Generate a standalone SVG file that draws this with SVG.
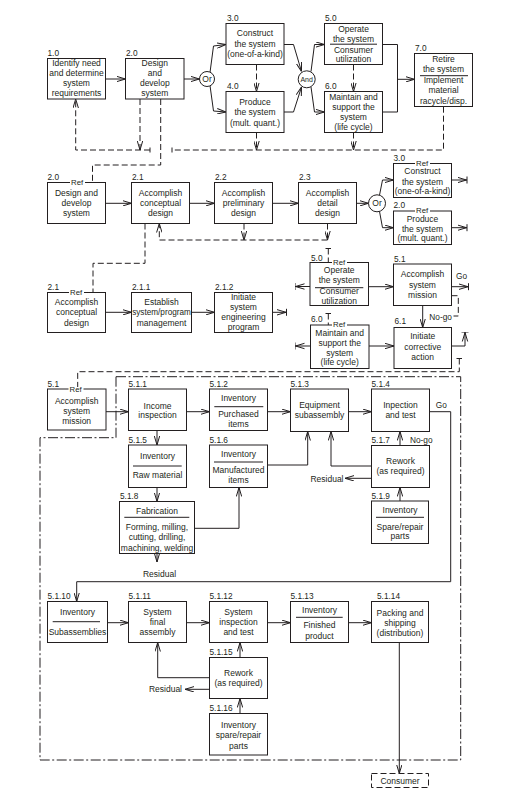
<svg xmlns="http://www.w3.org/2000/svg" width="507" height="796" viewBox="0 0 507 796">
<defs>
<style>
.b{fill:#fff;stroke:#231f20;stroke-width:1}
.t{font-family:"Liberation Sans",Arial,sans-serif;font-size:8.5px;fill:#231f20;text-anchor:middle}
.l{font-family:"Liberation Sans",Arial,sans-serif;font-size:8.3px;fill:#231f20}
.r{font-family:"Liberation Sans",Arial,sans-serif;font-size:7.8px;fill:#231f20}
.s{fill:none;stroke:#231f20;stroke-width:1}
.d{stroke-dasharray:6 3}
.dd{stroke-dasharray:10 2.5 2 2.5}
.dv{stroke:#231f20;stroke-width:1}
.w{fill:#fff}
</style>
<marker id="a" viewBox="0 0 9 6" refX="9" refY="3" markerWidth="9" markerHeight="6" markerUnits="userSpaceOnUse" orient="auto"><path d="M0,0.3 L9,3 L0,5.7" fill="none" stroke="#231f20" stroke-width="1"/></marker>
<marker id="ab" viewBox="0 0 10 8" refX="9.5" refY="4" markerWidth="10" markerHeight="8" markerUnits="userSpaceOnUse" orient="auto"><path d="M0,1.3 L9,4 L0,6.7 M9.5,0.5 V7.5" fill="none" stroke="#231f20" stroke-width="1"/></marker>
</defs>
<rect width="507" height="796" fill="#fff"/>

<g id="connectors">
<g class="s">
<path d="M105.5,79 H125.5" marker-end="url(#a)"/>
<path d="M184,79 H199.5" marker-end="url(#a)"/>
<path d="M210,72.5 L213.5,46 L226,44.5" marker-end="url(#a)"/>
<path d="M210,85.5 L213.5,111 L226,112" marker-end="url(#a)"/>
<path d="M284,44.5 H293.5 L301.5,71.5" marker-end="url(#a)"/>
<path d="M284,112 H293.5 L301.5,87" marker-end="url(#a)"/>
<path d="M311,71.5 L314.5,44.5 H324.5" marker-end="url(#a)"/>
<path d="M311,87 L314.5,112 H324.5" marker-end="url(#a)"/>
<path d="M382.5,44.5 H397.5 V112 H382.5"/>
<path d="M397.5,79.3 H414.5" marker-end="url(#a)"/>
<path d="M150,147.5 V152.5 M172,147.5 V152.5"/>

<path d="M105.5,203.3 H131.5" marker-end="url(#a)"/>
<path d="M189.5,203.3 H214.5" marker-end="url(#a)"/>
<path d="M272.5,203.3 H298.5" marker-end="url(#a)"/>
<path d="M356.5,203.3 H368.5" marker-end="url(#a)"/>
<path d="M379.5,195.2 L382.5,180 H393.5" marker-end="url(#a)"/>
<path d="M379.5,211.4 L382.5,227.7 H393.5" marker-end="url(#a)"/>
<path d="M451.5,180 H467" marker-end="url(#ab)"/>
<path d="M451.5,227.7 H467" marker-end="url(#ab)"/>

<path d="M105.5,312.3 H131.5" marker-end="url(#a)"/>
<path d="M191.5,312.3 H214.5" marker-end="url(#a)"/>
<path d="M272.5,312.3 H286.5" marker-end="url(#ab)"/>
<path d="M310,286.5 H295" marker-end="url(#ab)"/>
<path d="M368.5,286.7 H393.5" marker-end="url(#a)"/>
<path d="M451.5,286.7 H468.5" marker-end="url(#ab)"/>
<path d="M422.7,305.5 V327.5" marker-end="url(#a)"/>
<path d="M310.5,346 H295" marker-end="url(#ab)"/>
<path d="M369,346 H394" marker-end="url(#a)"/>
<path d="M451.5,346 H465 V332" marker-end="url(#ab)"/>
<path d="M325.5,248.5 H331 M325.5,313.5 H331 M456.5,358.5 H462"/>

<path d="M106,411.7 H128.5" marker-end="url(#a)"/>
<path d="M186.5,411.7 H209.5" marker-end="url(#a)"/>
<path d="M267.5,411.7 H290.5" marker-end="url(#a)"/>
<path d="M348.5,411.7 H371.5" marker-end="url(#a)"/>
<path d="M157,430.5 V445" marker-end="url(#a)"/>
<path d="M157,487.5 V501.5" marker-end="url(#a)"/>
<path d="M157,553.5 V562" marker-end="url(#a)"/>
<path d="M194.5,528.3 H239 V487.5" marker-end="url(#a)"/>
<path d="M267.5,465 H307.7 V431.5" marker-end="url(#a)"/>
<path d="M400,445.5 V431.5" marker-end="url(#a)"/>
<path d="M371.5,466 H331 V431.5" marker-end="url(#a)"/>
<path d="M371.5,478.3 H345" marker-end="url(#a)"/>
<path d="M400,501 V487.5" marker-end="url(#a)"/>
<path d="M429.5,411.7 H450.7 V581.7 H76.7 V601.5" marker-end="url(#a)"/>

<path d="M107.5,622.7 H128.5" marker-end="url(#a)"/>
<path d="M186.5,622.7 H209.5" marker-end="url(#a)"/>
<path d="M267.5,622.7 H290.5" marker-end="url(#a)"/>
<path d="M348.5,622.7 H371.5" marker-end="url(#a)"/>
<path d="M240,657.5 V642.5" marker-end="url(#a)"/>
<path d="M209.5,677.7 H157.7 V642.5" marker-end="url(#a)"/>
<path d="M209.5,689.3 H185" marker-end="url(#a)"/>
<path d="M240,713.5 V698.5" marker-end="url(#a)"/>
<path d="M399.3,642.5 V773.5" marker-end="url(#a)"/>
</g>
<g class="s d">
<path d="M256.5,64.5 V91.5" marker-end="url(#a)"/>
<path d="M353.5,64.5 V91.5" marker-end="url(#a)"/>
<path d="M150,150 H75.7 V99" marker-end="url(#a)"/>
<path d="M140,99 V150" marker-end="url(#a)"/>
<path d="M160.7,99 V165 H92.5 V182.5"/>
<path d="M443.5,106.7 V150 H172"/>
<path d="M256.5,132.5 V150" marker-end="url(#a)"/>
<path d="M353.5,132.5 V150" marker-end="url(#a)"/>
<path d="M244,223.5 V240" marker-end="url(#a)"/>
<path d="M327.5,223.5 V240" marker-end="url(#a)"/>
<path d="M327.5,240 H159.3 V223.5" marker-end="url(#a)"/>
<path d="M145,223.5 V263.3 H93 V292.5"/>
<path d="M451.5,295.7 H458.3 V316 H453.5"/>
<path d="M328.3,248.5 V262.5"/>
<path d="M328.3,313.5 V325"/>
<path d="M459.3,358.5 V371.7 H77.7 V389"/>
</g>
</g>

<g id="frame"><path class="s dd" d="M116,376.7 H460.7 V760 H40 V437.7 H116 Z"/></g>

<g id="n1_0"><rect class="b" x="47.5" y="58.5" width="58" height="40.5"/><text class="l" x="47.5" y="55.5">1.0</text>
<text class="t" x="76.5" y="65.5">Identify need</text><text class="t" x="76.5" y="75.8">and determine</text><text class="t" x="76.5" y="86">system</text><text class="t" x="76.5" y="96.3">requirements</text></g>
<g id="n2_0"><rect class="b" x="125.5" y="58.5" width="58.5" height="40.5"/><text class="l" x="126" y="55.5">2.0</text>
<text class="t" x="154.8" y="65.5">Design</text><text class="t" x="154.8" y="75.8">and</text><text class="t" x="154.8" y="86">develop</text><text class="t" x="154.8" y="96.3">system</text></g>
<g id="or1"><circle class="b" cx="207" cy="79" r="7.5"/><text class="t" x="207" y="82">Or</text></g>
<g id="n3_0"><rect class="b" x="226" y="23.5" width="58" height="41"/><text class="l" x="227" y="20.5">3.0</text>
<text class="t" x="255" y="36">Construct</text><text class="t" x="255" y="46.5">the system</text><text class="t" x="255" y="57">(one-of-a-kind)</text></g>
<g id="n4_0"><rect class="b" x="226" y="91.5" width="58" height="41"/><text class="l" x="227" y="89">4.0</text>
<text class="t" x="255" y="104.8">Produce</text><text class="t" x="255" y="115.2">the system</text><text class="t" x="255" y="125.5">(mult. quant.)</text></g>
<g id="and"><circle class="b" cx="306.7" cy="79.3" r="8.5"/><text class="t" x="306.7" y="81.8" style="font-size:7px">And</text></g>
<g id="n5_0"><rect class="b" x="324.5" y="23.5" width="58" height="41"/><text class="l" x="325" y="20.5">5.0</text>
<text class="t" x="353.5" y="31.5">Operate</text><text class="t" x="353.5" y="41.5">the system</text><line class="dv" x1="330" y1="44.2" x2="377" y2="44.2"/><text class="t" x="353.5" y="52.5">Consumer</text><text class="t" x="353.5" y="62.2">utilization</text></g>
<g id="n6_0"><rect class="b" x="324.5" y="91.5" width="58" height="41"/><text class="l" x="325" y="89">6.0</text>
<text class="t" x="353.5" y="99.7">Maintain and</text><text class="t" x="353.5" y="109.7">support the</text><text class="t" x="353.5" y="119.7">system</text><text class="t" x="353.5" y="129.7">(life cycle)</text></g>
<g id="n7_0"><rect class="b" x="414.5" y="53.5" width="58" height="53"/><text class="l" x="415" y="50.5">7.0</text>
<text class="t" x="443.5" y="62">Retire</text><text class="t" x="443.5" y="72">the system</text><line class="dv" x1="420" y1="75.7" x2="468" y2="75.7"/><text class="t" x="443.5" y="83">Implement</text><text class="t" x="443.5" y="93">material</text><text class="t" x="443.5" y="103.7">racycle/disp.</text></g>

<g id="n2_0ref"><rect class="b" x="47.5" y="182.5" width="58" height="41"/><text class="l" x="47.5" y="179.5">2.0</text><rect class="w" x="70" y="180.5" width="15" height="4"/><text class="r" x="71" y="185">Ref</text>
<text class="t" x="76.5" y="196.3">Design and</text><text class="t" x="76.5" y="206.3">develop</text><text class="t" x="76.5" y="216.3">system</text></g>
<g id="n2_1"><rect class="b" x="131.5" y="182.5" width="58" height="41"/><text class="l" x="132" y="179.5">2.1</text>
<text class="t" x="160.5" y="196.3">Accomplish</text><text class="t" x="160.5" y="206.3">conceptual</text><text class="t" x="160.5" y="216.3">design</text></g>
<g id="n2_2"><rect class="b" x="214.5" y="182.5" width="58" height="41"/><text class="l" x="215" y="179.5">2.2</text>
<text class="t" x="243.5" y="196.3">Accomplish</text><text class="t" x="243.5" y="206.3">preliminary</text><text class="t" x="243.5" y="216.3">design</text></g>
<g id="n2_3"><rect class="b" x="298.5" y="182.5" width="58" height="41"/><text class="l" x="299" y="179.5">2.3</text>
<text class="t" x="327.5" y="196.3">Accomplish</text><text class="t" x="327.5" y="206.3">detail</text><text class="t" x="327.5" y="216.3">design</text></g>
<g id="or2"><circle class="b" cx="377" cy="203.3" r="8.5"/><text class="t" x="377" y="206.3">Or</text></g>
<g id="n3_0ref"><rect class="b" x="393.5" y="163.5" width="58" height="34"/><text class="l" x="393.5" y="160.5">3.0</text><rect class="w" x="415" y="161.5" width="15" height="4"/><text class="r" x="416" y="165.5">Ref</text>
<text class="t" x="422.5" y="174.3">Construct</text><text class="t" x="422.5" y="184.5">the system</text><text class="t" x="422.5" y="194.3">(one-of-a-kind)</text></g>
<g id="n2_0prod"><rect class="b" x="393.5" y="211" width="58" height="33.5"/><text class="l" x="393.5" y="208">2.0</text><rect class="w" x="415" y="209" width="15" height="4"/><text class="r" x="416" y="213">Ref</text>
<text class="t" x="422.5" y="222">Produce</text><text class="t" x="422.5" y="231.6">the system</text><text class="t" x="422.5" y="241.4">(mult. quant.)</text></g>

<g id="n2_1ref"><rect class="b" x="47.5" y="292.5" width="58" height="40"/><text class="l" x="47.5" y="290">2.1</text><rect class="w" x="69" y="290.5" width="15" height="4"/><text class="r" x="70" y="295">Ref</text>
<text class="t" x="76.5" y="305.3">Accomplish</text><text class="t" x="76.5" y="315.3">conceptual</text><text class="t" x="76.5" y="325.7">design</text></g>
<g id="n2_1_1"><rect class="b" x="131.5" y="292.5" width="60" height="40"/><text class="l" x="132" y="290">2.1.1</text>
<text class="t" x="161.5" y="305.3">Establish</text><text class="t" x="161.5" y="315.3" style="font-size:8.2px">system/program</text><text class="t" x="161.5" y="325.7">management</text></g>
<g id="n2_1_2"><rect class="b" x="214.5" y="292.5" width="58" height="40"/><text class="l" x="215" y="290">2.1.2</text>
<text class="t" x="243.5" y="299.7">Initiate</text><text class="t" x="243.5" y="309.7">system</text><text class="t" x="243.5" y="319.7">engineering</text><text class="t" x="243.5" y="330">program</text></g>
<g id="n5_0ref"><rect class="b" x="310" y="262.5" width="58.5" height="43"/><text class="l" x="311" y="260.5">5.0</text><rect class="w" x="332" y="260.5" width="15" height="4"/><text class="r" x="333" y="264.5">Ref</text>
<text class="t" x="339.2" y="273.2">Operate</text><text class="t" x="339.2" y="282.7">the system</text><line class="dv" x1="315" y1="287.7" x2="363.3" y2="287.7"/><text class="t" x="339.2" y="294.3">Consumer</text><text class="t" x="339.2" y="303.7">utilization</text></g>
<g id="n5_1"><rect class="b" x="393.5" y="264" width="58" height="41.5"/><text class="l" x="394" y="261.5">5.1</text>
<text class="t" x="422.5" y="277">Accomplish</text><text class="t" x="422.5" y="288">system</text><text class="t" x="422.5" y="298">mission</text></g>
<text class="l" x="456" y="278.5">Go</text>
<text class="l" x="429.3" y="320">No-go</text>
<g id="n6_0ref"><rect class="b" x="310.5" y="325" width="58.5" height="43.5"/><text class="l" x="311" y="321.5">6.0</text><rect class="w" x="332" y="323" width="15" height="4"/><text class="r" x="333" y="327">Ref</text>
<text class="t" x="339.7" y="336.1">Maintain and</text><text class="t" x="339.7" y="345.9">support the</text><text class="t" x="339.7" y="355.6">system</text><text class="t" x="339.7" y="365.3">(life cycle)</text></g>
<g id="n6_1"><rect class="b" x="394" y="327.5" width="57.5" height="41"/><text class="l" x="394.5" y="324">6.1</text>
<text class="t" x="422.7" y="339">Initiate</text><text class="t" x="422.7" y="349.7">corrective</text><text class="t" x="422.7" y="360.3">action</text></g>

<g id="n5_1ref"><rect class="b" x="47.5" y="389" width="58.5" height="41"/><text class="l" x="47.5" y="387">5.1</text><rect class="w" x="68.5" y="387" width="15" height="4"/><text class="r" x="69.5" y="391.7">Ref</text>
<text class="t" x="76.7" y="403.7">Accomplish</text><text class="t" x="76.7" y="413.7">system</text><text class="t" x="76.7" y="423.7">mission</text></g>
<g id="n5_1_1"><rect class="b" x="128.5" y="389" width="58" height="41.5"/><text class="l" x="128.5" y="386.5">5.1.1</text>
<text class="t" x="157.5" y="408.7">Income</text><text class="t" x="157.5" y="418.3">inspection</text></g>
<g id="n5_1_2"><rect class="b" x="209.5" y="389" width="58" height="41.5"/><text class="l" x="209.5" y="386.5">5.1.2</text>
<text class="t" x="238.5" y="401.3">Inventory</text><line class="dv" x1="214.3" y1="406.7" x2="263.3" y2="406.7"/><text class="t" x="238.5" y="416.7">Purchased</text><text class="t" x="238.5" y="427">items</text></g>
<g id="n5_1_3"><rect class="b" x="290.5" y="389" width="58" height="42.5"/><text class="l" x="290.5" y="386.5">5.1.3</text>
<text class="t" x="319.5" y="408">Equipment</text><text class="t" x="319.5" y="418">subassembly</text></g>
<g id="n5_1_4"><rect class="b" x="371.5" y="389" width="58" height="42.5"/><text class="l" x="371.5" y="386.5">5.1.4</text>
<text class="t" x="400.5" y="408">Inpection</text><text class="t" x="400.5" y="418">and test</text></g>
<text class="l" x="435.7" y="407.5">Go</text>
<text class="l" x="410" y="442.5">No-go</text>
<g id="n5_1_5"><rect class="b" x="128.5" y="445" width="58" height="42.5"/><text class="l" x="128.5" y="443">5.1.5</text>
<text class="t" x="157.5" y="458.7">Inventory</text><line class="dv" x1="133" y1="466" x2="181.7" y2="466"/><text class="t" x="157.5" y="478.3">Raw material</text></g>
<g id="n5_1_6"><rect class="b" x="209.5" y="445" width="58" height="42.5"/><text class="l" x="209.5" y="443">5.1.6</text>
<text class="t" x="238.5" y="457.3">Inventory</text><line class="dv" x1="214" y1="462" x2="263" y2="462"/><text class="t" x="238.5" y="473">Manufactured</text><text class="t" x="238.5" y="483">items</text></g>
<g id="n5_1_7"><rect class="b" x="371.5" y="445.5" width="58" height="42"/><text class="l" x="371.5" y="443">5.1.7</text>
<text class="t" x="400.5" y="464">Rework</text><text class="t" x="400.5" y="474">(as required)</text></g>
<text class="t" x="343.5" y="481.5" style="text-anchor:end">Residual</text>
<g id="n5_1_8"><rect class="b" x="119.5" y="501.5" width="75" height="52"/><text class="l" x="120" y="498.7">5.1.8</text>
<text class="t" x="157" y="513.7">Fabrication</text><line class="dv" x1="124.3" y1="517.3" x2="189.3" y2="517.3"/><text class="t" x="157" y="530.3">Forming, milling,</text><text class="t" x="157" y="540.3">cutting, drilling,</text><text class="t" x="157" y="550.7">machining, welding</text></g>
<text class="t" x="159.5" y="576.5">Residual</text>
<g id="n5_1_9"><rect class="b" x="371.5" y="501" width="57" height="42.5"/><text class="l" x="371.5" y="498.7">5.1.9</text>
<text class="t" x="400" y="513">Inventory</text><line class="dv" x1="376" y1="517.3" x2="424" y2="517.3"/><text class="t" x="400" y="529.5">Spare/repair</text><text class="t" x="400" y="539">parts</text></g>

<g id="n5_1_10"><rect class="b" x="47.5" y="601.5" width="60" height="41"/><text class="l" x="47.5" y="599">5.1.10</text>
<text class="t" x="77.5" y="614.7">Inventory</text><line class="dv" x1="52.7" y1="621.7" x2="100" y2="621.7"/><text class="t" x="77.5" y="635.3">Subassemblies</text></g>
<g id="n5_1_11"><rect class="b" x="128.5" y="601.5" width="58" height="41"/><text class="l" x="128.5" y="599">5.1.11</text>
<text class="t" x="157.5" y="614.7">System</text><text class="t" x="157.5" y="624.7">final</text><text class="t" x="157.5" y="634.7">assembly</text></g>
<g id="n5_1_12"><rect class="b" x="209.5" y="601.5" width="58" height="41"/><text class="l" x="209.5" y="599">5.1.12</text>
<text class="t" x="238.5" y="614.7">System</text><text class="t" x="238.5" y="624.7">inspection</text><text class="t" x="238.5" y="634.7">and test</text></g>
<g id="n5_1_13"><rect class="b" x="290.5" y="601.5" width="58" height="41"/><text class="l" x="290.5" y="599">5.1.13</text>
<text class="t" x="319.5" y="613">Inventory</text><line class="dv" x1="296" y1="617.3" x2="342.7" y2="617.3"/><text class="t" x="319.5" y="628">Finished</text><text class="t" x="319.5" y="638.5">product</text></g>
<g id="n5_1_14"><rect class="b" x="371.5" y="601.5" width="57" height="41"/><text class="l" x="377" y="599">5.1.14</text>
<text class="t" x="400" y="615.7">Packing and</text><text class="t" x="400" y="625.7">shipping</text><text class="t" x="400" y="635.7">(distribution)</text></g>
<g id="n5_1_15"><rect class="b" x="209.5" y="657.5" width="58" height="41"/><text class="l" x="209.5" y="655.3">5.1.15</text>
<text class="t" x="238.5" y="675.7">Rework</text><text class="t" x="238.5" y="685.7">(as required)</text></g>
<text class="t" x="182" y="692.3" style="text-anchor:end">Residual</text>
<g id="n5_1_16"><rect class="b" x="209.5" y="713.5" width="58" height="41.5"/><text class="l" x="209.5" y="711.3">5.1.16</text>
<text class="t" x="238.5" y="728">Inventory</text><text class="t" x="238.5" y="738.3">spare/repair</text><text class="t" x="238.5" y="749">parts</text></g>
<g id="consumer"><rect class="b d" x="371.5" y="773.5" width="57" height="14"/><text class="t" x="400" y="783.5">Consumer</text></g>
</svg>
